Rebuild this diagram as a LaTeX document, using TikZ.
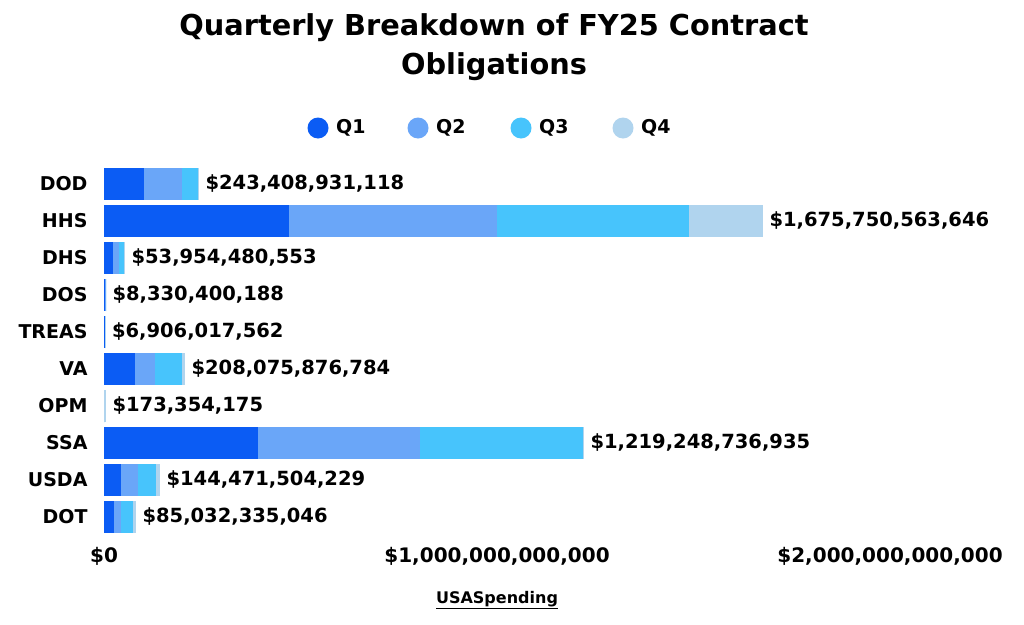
\documentclass[tikz,border=0pt]{standalone}
\usepackage{fontspec}
\setmainfont{DejaVu Sans}
\usetikzlibrary{positioning}
\definecolor{qone}{HTML}{0B5CF4}
\definecolor{qtwo}{HTML}{6AA6F8}
\definecolor{qthree}{HTML}{47C4FC}
\definecolor{qfour}{HTML}{B0D4EE}
\tikzset{
  agency/.style={anchor=east, font=\fontsize{19}{19}\selectfont\bfseries},
  amount/.style={anchor=west, font=\fontsize{19.5}{19}\selectfont\bfseries},
  tick/.style={font=\fontsize{20}{20}\selectfont\bfseries},
  legdot/.style={circle, minimum size=21pt, inner sep=0pt},
  legtext/.style={anchor=west, font=\fontsize{19}{19}\selectfont\bfseries}
}
\begin{document}
\begin{tikzpicture}[x=1pt,y=-1pt]
    \useasboundingbox[fill=white] (0,0) rectangle (1024,624);

    % Title
    \node[font=\fontsize{28.8}{39}\selectfont\bfseries, align=center] (title) at (494,47)
        {Quarterly Breakdown of FY25 Contract\\Obligations};

    % Legend
    \node[legdot, fill=qone] (l1) at (318,128) {};
    \node[legtext, right=4pt of l1] (t1) {Q1};
    \node[legdot, fill=qtwo] (l2) at (418,128) {};
    \node[legtext, right=4pt of l2] (t2) {Q2};
    \node[legdot, fill=qthree] (l3) at (521,128) {};
    \node[legtext, right=4pt of l3] (t3) {Q3};
    \node[legdot, fill=qfour] (l4) at (623,128) {};
    \node[legtext, right=4pt of l4] (t4) {Q4};

    % Bars: name/y/q1/q2/q3/q4 ends (px)/label
    \foreach \name/\y/\a/\b/\c/\d/\val in {
        DOD/184/144/182/198/199/{\$243,408,931,118},
        HHS/221/289/497/689/763/{\$1,675,750,563,646},
        DHS/258/113/119/124/125/{\$53,954,480,553},
        DOS/295/105/106/106/106/{\$8,330,400,188},
        TREAS/332/105/105/105/105.5/{\$6,906,017,562},
        VA/369/135/155/182/185/{\$208,075,876,784},
        OPM/406/104/104/104/106/{\$173,354,175},
        SSA/443/258/420/583/584/{\$1,219,248,736,935},
        USDA/480/121/138/156/160/{\$144,471,504,229},
        DOT/517/114/121/133/136/{\$85,032,335,046}}{
      \fill[qone] (104,\y-16) rectangle (\a,\y+16);
      \fill[qtwo] (\a,\y-16) rectangle (\b,\y+16);
      \fill[qthree] (\b,\y-16) rectangle (\c,\y+16);
      \fill[qfour] (\c,\y-16) rectangle (\d,\y+16);
      \node[agency] (ag\name) at (91,\y) {\name};
      \node[amount] (val\name) at (\d+3,\y) {\val};
    }

    % Axis ticks
    \node[tick] (x0) at (104,556) {\$0};
    \node[tick] (x1) at (497,556) {\$1,000,000,000,000};
    \node[tick] (x2) at (890,556) {\$2,000,000,000,000};

    % Source
    \node[font=\fontsize{16}{16}\selectfont\bfseries] (src) at (497,600) {\underline{USASpending}};
\end{tikzpicture}
\end{document}
